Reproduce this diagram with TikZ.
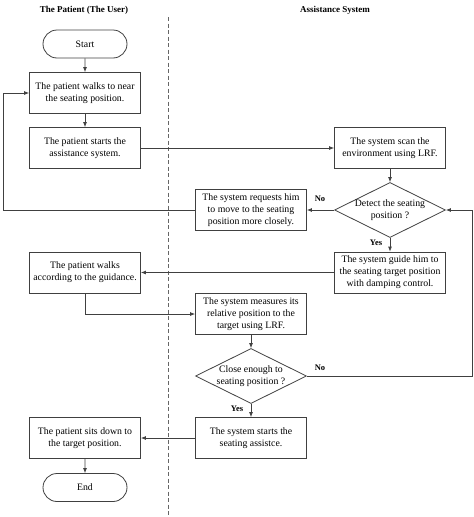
\documentclass[tikz,border=0pt]{standalone}
\usepackage{fontspec}
\setmainfont{Liberation Serif}
\usetikzlibrary{shapes.geometric,shapes.misc,arrows.meta}
\begin{document}
\begin{tikzpicture}[x=1pt,y=-1pt,
  line/.style={draw=black!75, line width=0.8pt},
  arr/.style={line, -{Latex[length=5pt,width=4pt]}},
  box/.style={rectangle, draw=black!75, line width=0.8pt, minimum width=111pt, minimum height=41pt, inner sep=0pt, align=center, font=\fontsize{9.8}{12}\selectfont},
  term/.style={rounded rectangle, draw=black!75, line width=0.8pt, minimum width=84pt, minimum height=28pt, inner sep=0pt, font=\fontsize{9.8}{12}\selectfont},
  dia/.style={diamond, draw=black!75, line width=0.8pt, minimum width=111pt, minimum height=55pt, inner sep=0pt},
  txt/.style={align=center, inner sep=0pt, font=\fontsize{9.8}{12}\selectfont},
  hdr/.style={inner sep=0pt, font=\fontsize{9}{11}\selectfont\bfseries},
  lbl/.style={inner sep=0pt, font=\fontsize{8.5}{10}\selectfont\bfseries}
]
\useasboundingbox (0,0) rectangle (474,517);
\node[hdr] (h1) at (84,10) {The Patient (The User)};
\node[hdr] (h2) at (335,10) {Assistance System};
\coordinate (dtop) at (168,17);
\coordinate (dbot) at (168,516);
\draw[black!60, line width=0.8pt, dash pattern=on 4pt off 2.5pt] (dtop) -- (dbot);

\node[term] (start) at (85,44) {Start};
\node[box] (b1) at (85,93) {The patient walks to near\\the seating position.};
\node[box] (b2) at (85,148) {The patient starts the\\assistance system.};
\node[box] (scan) at (390,148) {The system scan the\\environment using LRF.};
\node[dia] (d1) at (390,210) {};
\node[txt] (d1t) at (390,210) {Detect the seating\\position ?};
\node[box] (req) at (251,210) {The system requests him\\to move to the seating\\position more closely.};
\node[box] (guide) at (390,272.5) {The system guide him to\\the seating target position\\with damping control.};
\node[box] (walk) at (85,272.5) {The patient walks\\according to the guidance.};
\node[box] (meas) at (251,314) {The system measures its\\relative position to the\\target using LRF.};
\node[dia] (d2) at (251,376) {};
\node[txt] (d2t) at (251,376) {Close enough to\\seating position ?};
\node[box] (sa) at (251,438) {The system starts the\\seating assistce.};
\node[box] (sit) at (85,438) {The patient sits down to\\the target position.};
\node[term] (end) at (85,487.5) {End};

\coordinate (lp1) at (3,210);
\coordinate (rp1) at (472,376);

\draw[arr] (start) -- (b1);
\draw[arr] (b1) -- (b2);
\draw[arr] (b2) -- (scan);
\draw[arr] (scan) -- (d1);
\draw[arr] (d1) -- (req);
\draw[arr] (req.west) -- (lp1) |- (b1.west);
\draw[arr] (d1) -- (guide);
\draw[arr] (guide) -- (walk);
\draw[arr] (walk.south) |- (meas.west);
\draw[arr] (meas) -- (d2);
\draw[arr] (d2) -- (sa);
\draw[arr] (d2.east) -- (rp1) |- (d1.east);
\draw[arr] (sa) -- (sit);
\draw[arr] (sit) -- (end);

\node[lbl] (no1) at (320,199) {No};
\node[lbl] (yes1) at (376,243) {Yes};
\node[lbl] (no2) at (320,368) {No};
\node[lbl] (yes2) at (237,409) {Yes};
\end{tikzpicture}
\end{document}
